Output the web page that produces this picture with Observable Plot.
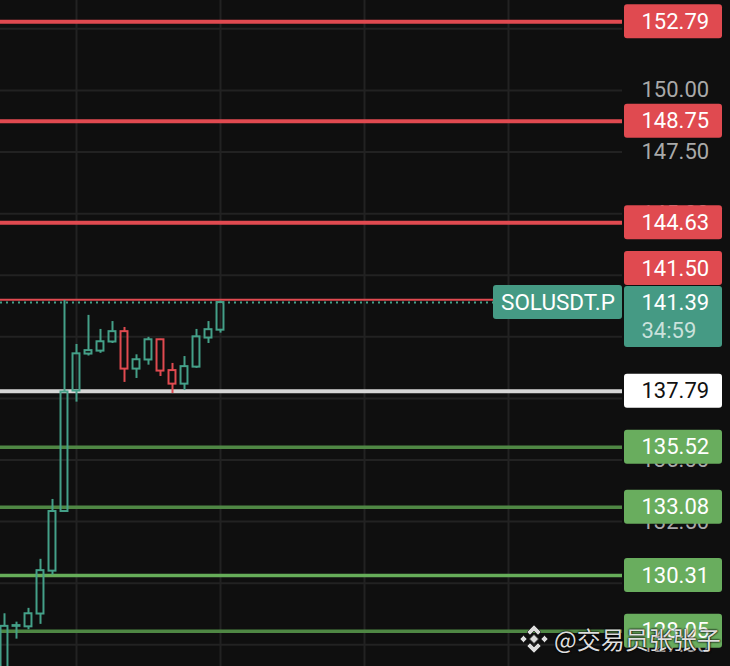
<!DOCTYPE html>
<html>
<head>
<meta charset="utf-8">
<script src="https://cdn.jsdelivr.net/npm/d3@7"></script>
<script src="https://cdn.jsdelivr.net/npm/@observablehq/plot@0.6"></script>
<style>
  html, body { margin: 0; padding: 0; background: #0f0f0f; }
  #wrap { position: relative; width: 730px; height: 666px; overflow: hidden; }
  #wm { position: absolute; left: 519px; top: 624px; display: flex; align-items: center; gap: 5px;
        font-family: "Noto Sans CJK SC", sans-serif; font-size: 24px; color: rgba(255,255,255,0.88);
        text-shadow: 0 0 2px #000, 0 0 2px #000; white-space: nowrap; line-height: 30px; }
</style>
</head>
<body>
<div id="wrap"></div>
<script>
// ---------- data ----------
const opens  = [126.30, 128.25, 128.23, 128.75, 130.49, 132.91, 137.80, 139.30, 139.42, 139.79, 140.21, 138.69, 139.06, 139.88, 138.63, 138.08, 138.77, 139.95, 140.27];
const highs  = [128.76, 128.42, 128.98, 130.97, 133.40, 141.48, 139.69, 140.87, 140.30, 140.62, 140.38, 139.27, 139.98, 139.90, 138.92, 139.20, 140.30, 140.62, 141.45];
const lows   = [126.00, 127.73, 128.11, 128.33, 130.33, 132.88, 137.35, 139.22, 139.33, 139.73, 138.15, 138.31, 138.85, 138.39, 137.70, 137.82, 138.72, 139.73, 140.15];
const closes = [128.25, 128.28, 128.76, 130.51, 132.91, 137.76, 139.31, 139.44, 139.80, 140.21, 138.69, 139.07, 139.88, 138.61, 138.08, 138.79, 140.00, 140.29, 141.39];

const resistance = [152.79, 148.75, 144.63, 141.50];
const pivotLevel = 137.79;
const support = [135.52, 133.08, 130.31, 128.05];
const lastPrice = 141.39;
const countdown = "34:59";
const symbol = "SOLUSDT.P";
const yTicks = [127.5, 130, 132.5, 135, 137.5, 140, 142.5, 145, 147.5, 150, 152.5];
const gridX = [6, 18, 30, 42];

// ---------- layout ----------
const W = 730, H = 666;
const X0 = -1/3, X1 = 60.5, Y0 = 126.62, Y1 = 153.65;
const xAt = p => X0 + p * (X1 - X0) / W;
const yAt = p => Y1 - p * (Y1 - Y0) / H;
const yPx = v => (Y1 - v) * H / (Y1 - Y0);

const BG = "#0f0f0f", TEAL = "#44a088", RED = "#e04a50", GRID = "#222222";
const GREEN_BOX = "#69ad5e", GREEN_DARK = "#4f8744", GREEN_BRIGHT = "#66ad59";
const FONT = "Roboto, 'Noto Sans', sans-serif";

const plotRight = xAt(622);
const boxL = xAt(624), boxR = xAt(722), textL = xAt(641);
const HALF = 17;

const rows = opens.map((o, i) => ({i, o, h: highs[i], l: lows[i], c: closes[i]}));
const ups = rows.filter(d => d.c >= d.o), downs = rows.filter(d => d.c < d.o);

// last-price box extents (px)
const lastY = yPx(lastPrice);
const tealTop = lastY - 16, tealBot = lastY + 45;

function place(v, kind) {
  let c = yPx(v);
  if (c + HALF > tealTop && c - HALF < tealBot) {
    c = v > lastPrice ? tealTop - 1 - HALF : tealBot + 1 + HALF;
  }
  return {v, kind, y1: yAt(c + HALF), y2: yAt(c - HALF), ty: yAt(c)};
}
const resLabels = resistance.map(v => place(v, "res"));
const pivLabels = [place(pivotLevel, "piv")];
const supLabels = support.map(v => place(v, "sup"));

function candleMarks(data, color) {
  return [
    Plot.ruleX(data, {x: "i", y1: d => Math.max(d.o, d.c), y2: "h", stroke: color, strokeWidth: 2, clip: true}),
    Plot.ruleX(data, {x: "i", y1: "l", y2: d => Math.min(d.o, d.c), stroke: color, strokeWidth: 2, clip: true}),
    Plot.rect(data, {x1: d => d.i - 0.29, x2: d => d.i + 0.29, y1: d => Math.min(d.o, d.c), y2: d => Math.max(d.o, d.c),
      fill: "none", stroke: color, strokeWidth: 2, clip: true})
  ];
}

function labelMarks(data, fill, textFill) {
  return [
    Plot.rect(data, {x1: () => boxL, x2: () => boxR, y1: "y1", y2: "y2", fill, rx: 3}),
    Plot.text(data, {x: () => textL, y: "ty", text: d => d.v.toFixed(2), fill: textFill, textAnchor: "start",
      fontSize: 22, fontFamily: FONT})
  ];
}

const chart = Plot.plot({
  width: W, height: H,
  margin: 0,
  style: {background: BG, fontFamily: FONT, overflow: "hidden"},
  x: {domain: [X0, X1], axis: null},
  y: {domain: [Y0, Y1], axis: null},
  marks: [
    // grid
    Plot.ruleX(gridX, {x: d => d, y1: Y0, y2: Y1, stroke: GRID, strokeWidth: 2}),
    Plot.ruleY(yTicks, {y: d => d, x1: X0, x2: plotRight, stroke: GRID, strokeWidth: 2}),
    // level lines
    Plot.ruleY(resistance.slice(0, 3), {y: d => d, x1: X0, x2: plotRight, stroke: RED, strokeWidth: 4}),
    Plot.ruleY(resistance.slice(3), {y: d => d, x1: X0, x2: xAt(493), stroke: RED, strokeWidth: 2}),
    Plot.ruleY([pivotLevel], {y: d => d, x1: X0, x2: plotRight, stroke: "#d6d6d6", strokeWidth: 4}),
    Plot.ruleY(support.filter(v => v !== 130.31), {y: d => d, x1: X0, x2: plotRight, stroke: GREEN_DARK, strokeWidth: 3.5}),
    Plot.ruleY(support.filter(v => v === 130.31), {y: d => d, x1: X0, x2: plotRight, stroke: GREEN_BRIGHT, strokeWidth: 3.5}),
    Plot.ruleY([lastPrice], {y: d => d, x1: X0, x2: xAt(493), stroke: TEAL, strokeWidth: 2, strokeDasharray: "2,4"}),
    // candles
    ...candleMarks(ups, TEAL),
    ...candleMarks(downs, RED),
    // price axis tick labels
    Plot.text(yTicks, {x: () => textL, y: d => d, text: d => d.toFixed(2), fill: "#a9a9a9", textAnchor: "start",
      fontSize: 22, fontFamily: FONT}),
    // level labels
    ...labelMarks(resLabels, RED, "#ffffff"),
    ...labelMarks(pivLabels, "#ffffff", "#111111"),
    ...labelMarks(supLabels, GREEN_BOX, "#ffffff"),
    // last price box
    Plot.rect([lastPrice], {x1: () => boxL, x2: () => boxR, y1: () => yAt(tealBot), y2: () => yAt(tealTop), fill: "#459a84", rx: 3}),
    Plot.text([lastPrice], {x: () => textL, y: d => d, text: d => d.toFixed(2), fill: "#ffffff", textAnchor: "start",
      fontSize: 22, fontFamily: FONT}),
    Plot.text([countdown], {x: () => textL, y: () => yAt(lastY + 28.5), text: d => d, fill: "rgba(255,255,255,0.72)",
      textAnchor: "start", fontSize: 22, fontFamily: FONT}),
    // symbol box
    Plot.rect([symbol], {x1: () => xAt(493), x2: () => xAt(622), y1: () => yAt(lastY + HALF), y2: () => yAt(lastY - HALF),
      fill: "#459a84", rx: 3}),
    Plot.text([symbol], {x: () => xAt(557.5), y: () => lastPrice, text: d => d, fill: "#ffffff", fontSize: 22.5, fontFamily: FONT})
  ]
});

const wrap = document.getElementById("wrap");
wrap.appendChild(chart);
const wm = document.createElement("div");
wm.id = "wm";
wm.innerHTML = `<svg width="30" height="30" viewBox="0 0 30 30">
  <g fill="#dcdcdc" stroke="#333" stroke-width="0.8">
    <path d="M15 1 L22 8 L19 11 L15 7 L11 11 L8 8 Z"/>
    <path d="M15 29 L22 22 L19 19 L15 23 L11 19 L8 22 Z"/>
    <path d="M1 15 L4.5 11.5 L8 15 L4.5 18.5 Z"/>
    <path d="M29 15 L25.5 11.5 L22 15 L25.5 18.5 Z"/>
    <path d="M15 10.5 L19.5 15 L15 19.5 L10.5 15 Z"/>
  </g></svg><span>@交易员张张子</span>`;
wrap.appendChild(wm);
</script>
</body>
</html>
